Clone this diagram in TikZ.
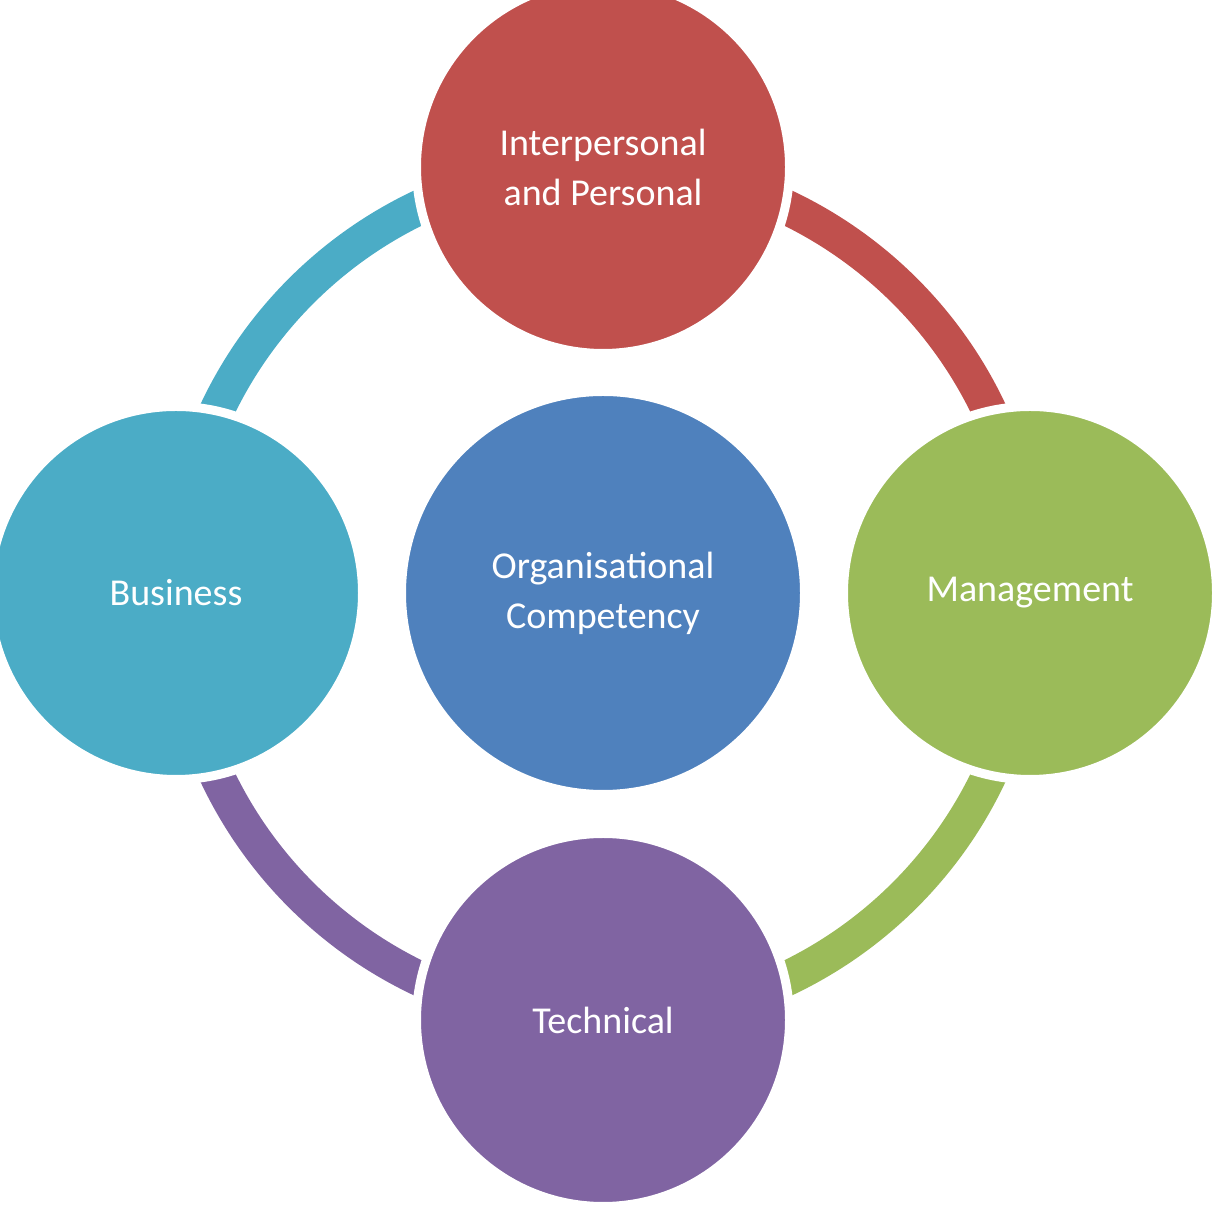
\documentclass[tikz,border=0pt]{standalone}
\usepackage{fontspec}
\setmainfont{Carlito}
\usetikzlibrary{calc}
\definecolor{cred}{HTML}{C0504D}
\definecolor{cgreen}{HTML}{9BBB59}
\definecolor{cpurple}{HTML}{8064A2}
\definecolor{cteal}{HTML}{4BACC6}
\definecolor{cblue}{HTML}{4F81BD}
\begin{document}
\begin{tikzpicture}[x=1pt,y=1pt,
  bub/.style={circle,draw=white,line width=9pt,minimum size=#1,inner sep=0pt,align=center,text=white,font=\fontsize{38}{50}\selectfont},
  ring/.style={line width=35pt}]
\useasboundingbox (0,0) rectangle (1212,1230);
\coordinate (c) at (603,637);
\draw[ring,cred] ($(c)+(90:427)$) arc (90:0:427);
\draw[ring,cgreen] ($(c)+(0:427)$) arc (0:-90:427);
\draw[ring,cpurple] ($(c)+(-90:427)$) arc (-90:-180:427);
\draw[ring,cteal] ($(c)+(180:427)$) arc (180:90:427);
\node[bub=403pt,fill=cblue] (org) at (c) {Organisational\\Competency};
\node[bub=373pt,fill=cred] (ip) at (603,1063) {Interpersonal\\and Personal};
\node[bub=373pt,fill=cgreen] (mg) at (1030,637) {Management};
\node[bub=373pt,fill=cpurple] (tc) at (603,210) {Technical};
\node[bub=373pt,fill=cteal] (bs) at (176,637) {Business};
\end{tikzpicture}
\end{document}
